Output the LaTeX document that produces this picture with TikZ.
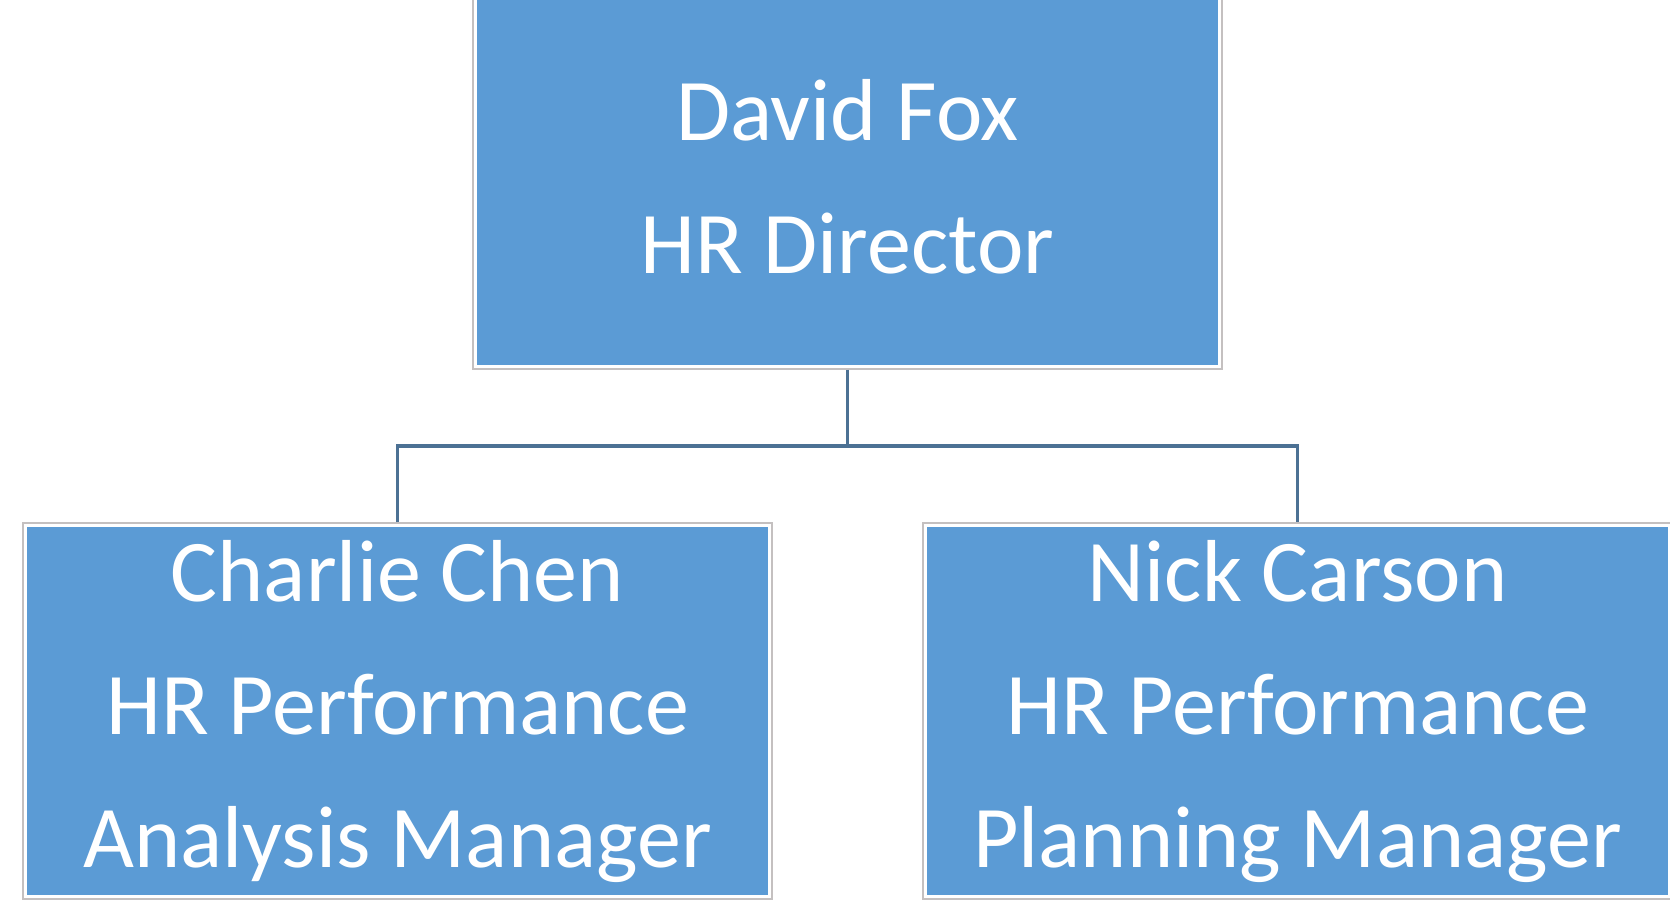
\documentclass[tikz,border=0pt]{standalone}
\usepackage{fontspec}
\setmainfont{Carlito}
\definecolor{boxblue}{HTML}{5B9BD5}
\definecolor{linec}{HTML}{4C7194}
\definecolor{bordgray}{HTML}{C4C0C0}
\begin{document}
\begin{tikzpicture}[x=1pt,y=-1pt,
  orgbox/.style={draw=bordgray, line width=1.2pt, fill=white, inner sep=0pt,
    minimum width=749pt, minimum height=376pt, text=white, align=center,
    font=\fontsize{88}{133}\selectfont,
    path picture={\fill[boxblue] ([shift={(4pt,-4pt)}]path picture bounding box.north west)
      rectangle ([shift={(-4pt,4pt)}]path picture bounding box.south east);}},
  conn/.style={draw=linec, line width=3.3pt}]
\useasboundingbox (0,0) rectangle (1670,921);
\node[orgbox, minimum height=384pt] (top) at (847.5,177) {David Fox\\HR Director};
\node[orgbox] (l) at (397.5,711) {Charlie Chen\\HR Performance\\Analysis Manager};
\node[orgbox] (r) at (1297.5,711) {Nick Carson\\HR Performance\\Planning Manager};
\coordinate (j) at (847.5,446);
\draw[conn] (top.south) -- (j);
\draw[conn] (l.north) |- (j) -| (r.north);
\end{tikzpicture}
\end{document}
